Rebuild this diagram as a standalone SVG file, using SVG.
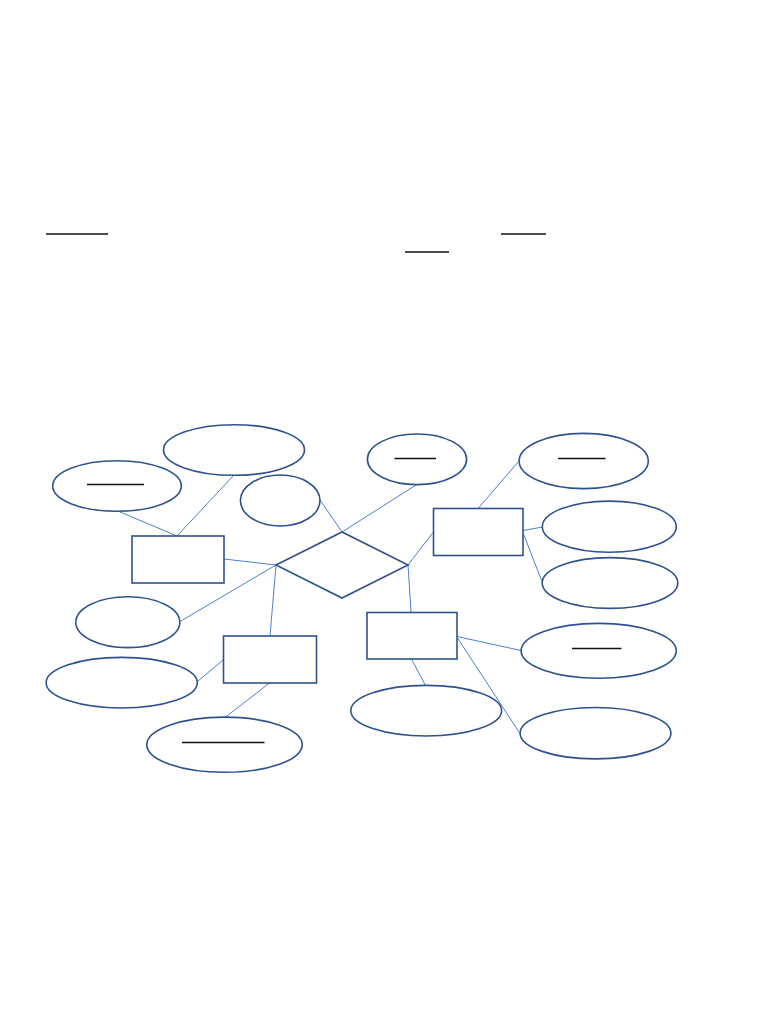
<svg xmlns="http://www.w3.org/2000/svg" width="768" height="1024" viewBox="0 0 768 1024">
<style>
.bg{fill:#ffffff}
.attr{fill:#ffffff;stroke:#2F528F;stroke-width:1.6}
.ent{fill:#ffffff;stroke:#2F528F;stroke-width:1.6}
.rel{fill:#ffffff;stroke:#2F528F;stroke-width:1.6}
.conn line{stroke:#4F7FD0;stroke-width:1}
.ul{stroke:#111111;stroke-width:1.4}
</style>
<rect class="bg" x="0" y="0" width="768" height="1024"/>
<g id="top-underlines">
<line class="ul" x1="46" y1="234" x2="108" y2="234"/>
<line class="ul" x1="501" y1="234" x2="546" y2="234"/>
<line class="ul" x1="405" y1="252" x2="449" y2="252"/>
</g>
<g id="connectors" class="conn">
<line x1="119" y1="511.5" x2="177" y2="536"/>
<line x1="233.5" y1="475.5" x2="177" y2="536"/>
<line x1="320" y1="500" x2="342" y2="532"/>
<line x1="342" y1="532" x2="416" y2="485"/>
<line x1="224" y1="559" x2="276" y2="565"/>
<line x1="276" y1="565" x2="180" y2="621.5"/>
<line x1="276" y1="565" x2="270" y2="636"/>
<line x1="223" y1="660" x2="197.5" y2="681.5"/>
<line x1="269.5" y1="683" x2="225" y2="717.5"/>
<line x1="408" y1="565" x2="433" y2="532.5"/>
<line x1="408" y1="565" x2="411" y2="612"/>
<line x1="478.5" y1="508" x2="518.5" y2="461.5"/>
<line x1="523" y1="530.5" x2="542.5" y2="527"/>
<line x1="523.5" y1="534" x2="542" y2="581.5"/>
<line x1="457" y1="636.5" x2="521" y2="650.5"/>
<line x1="457.5" y1="638" x2="520" y2="733.5"/>
<line x1="411.5" y1="659" x2="425.5" y2="685.5"/>
</g>
<g id="rel-diamond"><polygon class="rel" points="276,565 342,532 408,565 342,598"/></g>
<g id="entity-1"><rect class="ent" x="132" y="536" width="92" height="47"/></g>
<g id="entity-2"><rect class="ent" x="223.5" y="636" width="93" height="47"/></g>
<g id="entity-3"><rect class="ent" x="433.5" y="508.5" width="89.5" height="47"/></g>
<g id="entity-4"><rect class="ent" x="367" y="612.5" width="90" height="46.5"/></g>
<g id="attr-a"><ellipse class="attr" cx="234" cy="450" rx="70.5" ry="25.3"/></g>
<g id="attr-b"><ellipse class="attr" cx="117" cy="486" rx="64.3" ry="25.3"/><line class="ul" x1="87" y1="484.5" x2="144" y2="484.5"/></g>
<g id="attr-c"><ellipse class="attr" cx="280.2" cy="500.5" rx="39.8" ry="25.5"/></g>
<g id="attr-d"><ellipse class="attr" cx="417" cy="459.3" rx="49.6" ry="25.3"/><line class="ul" x1="394.5" y1="458.5" x2="436" y2="458.5"/></g>
<g id="attr-e"><ellipse class="attr" cx="583.7" cy="461" rx="64.6" ry="27.6"/><line class="ul" x1="558" y1="458.5" x2="605.5" y2="458.5"/></g>
<g id="attr-f"><ellipse class="attr" cx="609.3" cy="526.7" rx="67" ry="25.6"/></g>
<g id="attr-g"><ellipse class="attr" cx="610" cy="583" rx="67.8" ry="25.4"/></g>
<g id="attr-h"><ellipse class="attr" cx="127.8" cy="622.2" rx="52" ry="25.4"/></g>
<g id="attr-i"><ellipse class="attr" cx="121.7" cy="682.7" rx="75.6" ry="25.3"/></g>
<g id="attr-j"><ellipse class="attr" cx="224.5" cy="744.7" rx="77.7" ry="27.6"/><line class="ul" x1="182" y1="742.5" x2="264.5" y2="742.5"/></g>
<g id="attr-k"><ellipse class="attr" cx="598.7" cy="650.8" rx="77.6" ry="27.4"/><line class="ul" x1="572" y1="648.5" x2="621.5" y2="648.5"/></g>
<g id="attr-l"><ellipse class="attr" cx="426.2" cy="710.7" rx="75.4" ry="25.3"/></g>
<g id="attr-m"><ellipse class="attr" cx="595.5" cy="733.2" rx="75.4" ry="25.7"/></g>
</svg>
